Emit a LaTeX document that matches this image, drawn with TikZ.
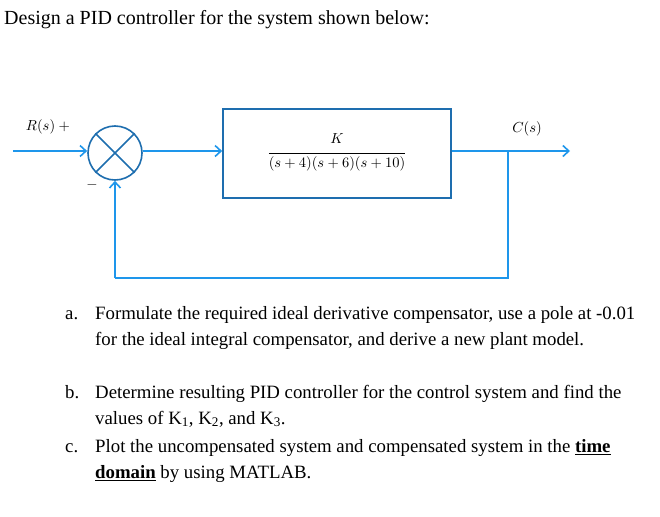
\documentclass[tikz,border=0pt]{standalone}
\usepackage{amsmath}
\usepackage{fontspec}
\setmainfont{Liberation Serif}
\usetikzlibrary{arrows.meta}
\definecolor{sig}{RGB}{30,150,235}
\definecolor{blk}{RGB}{30,110,175}
\begin{document}
\begin{tikzpicture}[x=1pt,y=-1pt,
  line/.style={sig,line width=1.6pt},
  arr/.style={line,-{Straight Barb[length=6pt,width=11pt,line width=1.6pt]}},
  txt/.style={anchor=base west,inner sep=0pt,font=\fontsize{18.8}{22}\selectfont},
  mlab/.style={inner sep=0pt,scale=1.45}]
\useasboundingbox (0,0) rectangle (660,516);
\node[txt,font=\fontsize{20}{24}\selectfont] (title) at (4,25) {Design a PID controller for the system shown below:};
\node[draw=blk,line width=1.6pt,circle,minimum size=54pt,inner sep=0pt] (sum) at (115,153) {};
\draw[blk,line width=1.6pt] (sum.45)--(sum.225) (sum.135)--(sum.315);
\node[draw=blk,line width=1.6pt,minimum width=228pt,minimum height=89pt,inner sep=0pt] (G) at (337,153.5) {};
\node[mlab] (frac) at (337,152) {$\dfrac{\raisebox{3pt}{$K$}}{(s+4)(s+6)(s+10)}$};
\coordinate (in) at (13,151);
\coordinate (out) at (570,151);
\coordinate (br) at (508,151);
\coordinate (fb1) at (508,278);
\coordinate (fb2) at (115,278);
\draw[arr] (in) -- (sum.west|-in);
\draw[arr] (sum.east|-in) -- (G.west|-in);
\draw[arr] (G.east|-in) -- (out);
\draw[line] (br) -- (fb1) -- (fb2);
\draw[arr] (fb2) -- (sum.south);
\node[mlab] (R) at (48,127) {$R(s)\ +$};
\node[mlab] (minus) at (92,185) {$-$};
\node[mlab] (C) at (527,129) {$C(s)$};
\node[txt] (a) at (65,319) {a.};
\node[txt] (a1) at (95,319) {Formulate the required ideal derivative compensator, use a pole at -0.01};
\node[txt] (a2) at (95,345) {for the ideal integral compensator, and derive a new plant model.};
\node[txt] (b) at (65,398) {b.};
\node[txt] (b1) at (95,398) {Determine resulting PID controller for the control system and find the};
\node[txt] (b2) at (95,424) {values of K\textsubscript{1}, K\textsubscript{2}, and K\textsubscript{3}.};
\node[txt] (c) at (65,452) {c.};
\node[txt] (c1) at (95,452) {Plot the uncompensated system and compensated system in the \textbf{\underline{time}}};
\node[txt] (c2) at (95,478) {\textbf{\underline{domain}} by using MATLAB.};
\end{tikzpicture}
\end{document}
